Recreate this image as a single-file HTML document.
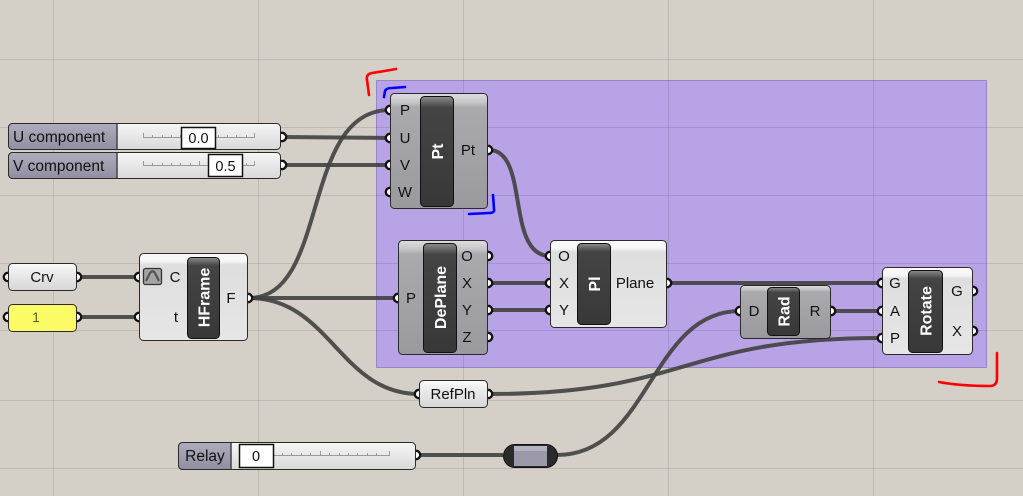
<!DOCTYPE html>
<html><head><meta charset="utf-8"><style>
html,body{margin:0;padding:0;background:#d4d0c8;}
svg{display:block;}
text{font-family:"Liberation Sans",sans-serif;}
</style></head><body>
<svg width="1023" height="496" viewBox="0 0 1023 496" xmlns="http://www.w3.org/2000/svg">
<defs>
<linearGradient id="gL" x1="0" y1="0" x2="0" y2="1">
<stop offset="0" stop-color="#fafafa"/><stop offset="0.09" stop-color="#f6f6f6"/><stop offset="0.13" stop-color="#dedede"/><stop offset="1" stop-color="#e6e6e6"/>
</linearGradient>
<linearGradient id="gLs" x1="0" y1="0" x2="0" y2="1">
<stop offset="0" stop-color="#fbfbfb"/><stop offset="0.3" stop-color="#ededed"/><stop offset="1" stop-color="#d6d6d6"/>
</linearGradient>
<linearGradient id="gG" x1="0" y1="0" x2="0" y2="1">
<stop offset="0" stop-color="#dedede"/><stop offset="0.08" stop-color="#c4c4c6"/><stop offset="0.12" stop-color="#aaaaae"/><stop offset="1" stop-color="#9a9a9e"/>
</linearGradient>
<linearGradient id="gB" x1="0" y1="0" x2="0" y2="1">
<stop offset="0" stop-color="#8c8c8c"/><stop offset="0.1" stop-color="#444"/><stop offset="1" stop-color="#383838"/>
</linearGradient>
<linearGradient id="gS" x1="0" y1="0" x2="0" y2="1">
<stop offset="0" stop-color="#f6f6f6"/><stop offset="1" stop-color="#d9d9d9"/>
</linearGradient>
<linearGradient id="gLab" x1="0" y1="0" x2="0" y2="1">
<stop offset="0" stop-color="#aeacbd"/><stop offset="1" stop-color="#908ea0"/>
</linearGradient>
</defs>

<!-- group -->
<rect x="376.5" y="80.5" width="610" height="287" fill="#b9a3e7" stroke="#9886c4" stroke-width="1"/>

<!-- grid -->
<g stroke="rgba(0,0,0,0.1)" stroke-width="1">
<line x1="53.5" y1="0" x2="53.5" y2="496"/>
<line x1="258.5" y1="0" x2="258.5" y2="496"/>
<line x1="463.5" y1="0" x2="463.5" y2="496"/>
<line x1="668.5" y1="0" x2="668.5" y2="496"/>
<line x1="873.5" y1="0" x2="873.5" y2="496"/>
<line x1="0" y1="59.5" x2="1023" y2="59.5"/>
<line x1="0" y1="127.5" x2="1023" y2="127.5"/>
<line x1="0" y1="195.5" x2="1023" y2="195.5"/>
<line x1="0" y1="263.5" x2="1023" y2="263.5"/>
<line x1="0" y1="330.5" x2="1023" y2="330.5"/>
<line x1="0" y1="400.5" x2="1023" y2="400.5"/>
<line x1="0" y1="468.5" x2="1023" y2="468.5"/>
</g>

<!-- wires -->
<g fill="none" stroke="#434343" stroke-width="4" stroke-opacity="0.92">
<path d="M284,137 L390,138"/>
<path d="M284,165 L390,165"/>
<path d="M249,298 C330,298 300,110 390,110"/>
<path d="M249,298 L398,298"/>
<path d="M249,298 C330,298 340,394 419,394"/>
<path d="M78,277 L139,277"/>
<path d="M78,317 L139,317"/>
<path d="M489,150 C530,150 505,256 550,256"/>
<path d="M489,283 L550,283"/>
<path d="M489,310 L550,310"/>
<path d="M668,283 L882,283"/>
<path d="M832,311 L882,311"/>
<path d="M489,394 C690,394 680,338 882,338"/>
<path d="M417,455 L503,455"/>
<path d="M557,455 C650,455 650,311 740,311"/>
</g>

<!-- grips -->
<g fill="#fff" stroke="#111" stroke-width="2.3">
<circle cx="282" cy="137" r="4.2"/>
<circle cx="282" cy="165" r="4.2"/>
<circle cx="8" cy="277" r="4.2"/><circle cx="77" cy="277" r="4.2"/>
<circle cx="8" cy="317" r="4.2"/><circle cx="77" cy="317" r="4.2"/>
<circle cx="139" cy="277" r="4.2"/><circle cx="139" cy="317" r="4.2"/><circle cx="248" cy="298" r="4.2"/>
<circle cx="390" cy="110" r="4.2"/><circle cx="390" cy="138" r="4.2"/><circle cx="390" cy="165" r="4.2"/><circle cx="390" cy="192" r="4.2"/><circle cx="488" cy="150" r="4.2"/>
<circle cx="398" cy="298" r="4.2"/>
<circle cx="488" cy="256" r="4.2"/><circle cx="488" cy="283" r="4.2"/><circle cx="488" cy="310" r="4.2"/><circle cx="488" cy="337" r="4.2"/>
<circle cx="550" cy="256" r="4.2"/><circle cx="550" cy="283" r="4.2"/><circle cx="550" cy="310" r="4.2"/><circle cx="667" cy="283" r="4.2"/>
<circle cx="740" cy="311" r="4.2"/><circle cx="831" cy="311" r="4.2"/>
<circle cx="882" cy="283" r="4.2"/><circle cx="882" cy="311" r="4.2"/><circle cx="882" cy="338" r="4.2"/>
<circle cx="973" cy="291" r="4.2"/><circle cx="973" cy="331" r="4.2"/>
<circle cx="419" cy="394" r="4.2"/><circle cx="488" cy="394" r="4.2"/>
<circle cx="416" cy="455" r="4.2"/>
</g>

<!-- U slider -->
<rect x="8.5" y="123.5" width="272" height="26" rx="4" fill="url(#gS)" stroke="#2a2a2a"/>
<path d="M12.5,123.5 H117 V149.5 H12.5 A4,4 0 0 1 8.5,145.5 V127.5 A4,4 0 0 1 12.5,123.5 Z" fill="url(#gLab)" stroke="#2a2a2a"/>
<line x1="117" y1="124" x2="117" y2="149" stroke="#444" stroke-width="1.5"/>
<text x="13" y="142" font-size="15.5" fill="#111">U component</text>
<g stroke="#9a9a9a" stroke-width="1">
<line x1="143" y1="137.5" x2="255" y2="137.5"/>
<path d="M143.5,133 V138 M152.5,135 V138 M162.5,135 V138 M171.5,135 V138 M180.5,135 V138 M190.5,135 V138 M199.5,133 V138 M208.5,135 V138 M218.5,135 V138 M227.5,135 V138 M236.5,135 V138 M246.5,135 V138 M254.5,133 V138"/>
</g>
<rect x="181.5" y="127.5" width="34" height="21" fill="#fff" stroke="#111" stroke-width="1.5"/>
<text x="198.5" y="143" font-size="14.5" text-anchor="middle" fill="#111">0.0</text>

<!-- V slider -->
<rect x="8.5" y="152.5" width="272" height="26" rx="4" fill="url(#gS)" stroke="#2a2a2a"/>
<path d="M12.5,152.5 H117 V178.5 H12.5 A4,4 0 0 1 8.5,174.5 V156.5 A4,4 0 0 1 12.5,152.5 Z" fill="url(#gLab)" stroke="#2a2a2a"/>
<line x1="117" y1="153" x2="117" y2="178" stroke="#444" stroke-width="1.5"/>
<text x="13" y="171" font-size="15.5" fill="#111">V component</text>
<g stroke="#9a9a9a" stroke-width="1">
<line x1="143" y1="165.5" x2="255" y2="165.5"/>
<path d="M143.5,161 V166 M152.5,163 V166 M162.5,163 V166 M171.5,163 V166 M180.5,163 V166 M190.5,163 V166 M199.5,161 V166 M208.5,163 V166 M218.5,163 V166 M227.5,163 V166 M236.5,163 V166 M246.5,163 V166 M254.5,161 V166"/>
</g>
<rect x="208.5" y="154.5" width="34" height="22" fill="#fff" stroke="#111" stroke-width="1.5"/>
<text x="225.5" y="171" font-size="14.5" text-anchor="middle" fill="#111">0.5</text>

<!-- Crv -->
<rect x="8.5" y="263.5" width="68" height="27" rx="4" fill="url(#gLs)" stroke="#2a2a2a"/>
<text x="42" y="282" font-size="15" text-anchor="middle" fill="#111">Crv</text>
<!-- panel 1 -->
<rect x="8.5" y="304.5" width="68" height="27" rx="4" fill="#fbfb66" stroke="#2a2a2a"/>
<text x="36" y="322" font-size="13.5" text-anchor="middle" fill="#4d5a2a">1</text>

<!-- HFrame -->
<rect x="139.5" y="253.5" width="108" height="87" rx="4" fill="url(#gL)" stroke="#2a2a2a"/>
<rect x="187.5" y="257.5" width="32" height="81" rx="4" fill="url(#gB)" stroke="#111"/>
<text transform="translate(209.5,297.5) rotate(-90)" font-size="16" font-weight="bold" text-anchor="middle" fill="#fff">HFrame</text>
<rect x="143.5" y="268.5" width="18" height="16" rx="2" fill="#a4a4a4" stroke="#333" stroke-width="1.3"/>
<path d="M146,281 L150,273 Q152.5,269.5 155,273 L159,281" fill="none" stroke="#555" stroke-width="2.2"/>
<text x="175" y="282" font-size="15" text-anchor="middle" fill="#111">C</text>
<text x="176" y="322" font-size="15" text-anchor="middle" fill="#111">t</text>
<text x="231" y="303" font-size="15" text-anchor="middle" fill="#111">F</text>

<!-- Pt -->
<rect x="390.5" y="93.5" width="97" height="115" rx="4" fill="url(#gG)" stroke="#2a2a2a"/>
<rect x="420.5" y="96.5" width="33" height="110" rx="4" fill="url(#gB)" stroke="#111"/>
<text transform="translate(443,151.5) rotate(-90)" font-size="16" font-weight="bold" text-anchor="middle" fill="#fff">Pt</text>
<g font-size="15" text-anchor="middle" fill="#111">
<text x="405" y="115">P</text><text x="405" y="143">U</text><text x="405" y="170">V</text><text x="405" y="197">W</text>
<text x="468" y="155">Pt</text>
</g>

<!-- DePlane -->
<rect x="398.5" y="240.5" width="89" height="114" rx="4" fill="url(#gG)" stroke="#2a2a2a"/>
<rect x="423.5" y="243.5" width="33" height="109" rx="4" fill="url(#gB)" stroke="#111"/>
<text transform="translate(446,297.5) rotate(-90)" font-size="16" font-weight="bold" text-anchor="middle" fill="#fff">DePlane</text>
<g font-size="15" text-anchor="middle" fill="#111">
<text x="411" y="303">P</text>
<text x="467" y="261">O</text><text x="467" y="288">X</text><text x="467" y="315">Y</text><text x="467" y="342">Z</text>
</g>

<!-- Pl -->
<rect x="550.5" y="240.5" width="116" height="87" rx="4" fill="url(#gL)" stroke="#2a2a2a"/>
<rect x="577.5" y="243.5" width="33" height="81" rx="4" fill="url(#gB)" stroke="#111"/>
<text transform="translate(600,284) rotate(-90)" font-size="16" font-weight="bold" text-anchor="middle" fill="#fff">Pl</text>
<g font-size="15" text-anchor="middle" fill="#111">
<text x="564" y="261">O</text><text x="564" y="288">X</text><text x="564" y="315">Y</text>
<text x="635" y="288">Plane</text>
</g>

<!-- Rad -->
<rect x="740.5" y="285.5" width="90" height="53" rx="4" fill="url(#gG)" stroke="#2a2a2a"/>
<rect x="767.5" y="287.5" width="32" height="48" rx="4" fill="url(#gB)" stroke="#111"/>
<text transform="translate(789.5,311.5) rotate(-90)" font-size="16" font-weight="bold" text-anchor="middle" fill="#fff">Rad</text>
<g font-size="15" text-anchor="middle" fill="#111">
<text x="754" y="316">D</text><text x="815" y="316">R</text>
</g>

<!-- Rotate -->
<rect x="882.5" y="267.5" width="90" height="87" rx="4" fill="url(#gL)" stroke="#2a2a2a"/>
<rect x="908.5" y="270.5" width="34" height="82" rx="4" fill="url(#gB)" stroke="#111"/>
<text transform="translate(931.5,311) rotate(-90)" font-size="16" font-weight="bold" text-anchor="middle" fill="#fff">Rotate</text>
<g font-size="15" text-anchor="middle" fill="#111">
<text x="895" y="288">G</text><text x="895" y="316">A</text><text x="895" y="343">P</text>
<text x="957" y="296">G</text><text x="957" y="336">X</text>
</g>

<!-- RefPln -->
<rect x="419.5" y="380.5" width="68" height="27" rx="4" fill="url(#gLs)" stroke="#2a2a2a"/>
<text x="453" y="399" font-size="15" text-anchor="middle" fill="#111">RefPln</text>

<!-- Relay slider -->
<rect x="178.5" y="442.5" width="237" height="27" rx="4" fill="url(#gS)" stroke="#2a2a2a"/>
<path d="M182.5,442.5 H231 V469.5 H182.5 A4,4 0 0 1 178.5,465.5 V446.5 A4,4 0 0 1 182.5,442.5 Z" fill="url(#gLab)" stroke="#2a2a2a"/>
<line x1="231" y1="443" x2="231" y2="469" stroke="#444" stroke-width="1.5"/>
<text x="205" y="461" font-size="15.5" text-anchor="middle" fill="#111">Relay</text>
<g stroke="#9a9a9a" stroke-width="1">
<line x1="273" y1="455.5" x2="390" y2="455.5"/>
<path d="M282.5,453 V456 M291.5,453 V456 M301.5,453 V456 M310.5,453 V456 M320.5,451 V456 M329.5,453 V456 M339.5,453 V456 M348.5,453 V456 M357.5,453 V456 M367.5,453 V456 M376.5,453 V456 M389.5,451 V456"/>
</g>
<rect x="239.5" y="444.5" width="34" height="23" fill="#fff" stroke="#111" stroke-width="1.5"/>
<text x="256" y="461" font-size="14.5" text-anchor="middle" fill="#111">0</text>

<!-- relay capsule -->
<rect x="503.5" y="444.5" width="54" height="23" rx="11.5" fill="#2b2b2b" stroke="#111"/>
<rect x="514" y="446" width="33" height="20" fill="#9b99a9"/>
<rect x="514" y="446" width="33" height="5" fill="#b4b2c0"/>

<!-- annotations -->
<g fill="none" stroke-linecap="round" stroke-linejoin="round" stroke-width="2.6">
<path d="M369,95 L367,80 Q366,74 372,73 Q385,71 396,69" stroke="#ff0000"/>
<path d="M384,97 L385,91 Q386,88 392,88 L405,87" stroke="#0000ff"/>
<path d="M493,195 L494,209 Q495,213 489,213 L469,214" stroke="#0000ff"/>
<path d="M939,382 Q960,386 990,386 Q997,386 997,378 L997,353" stroke="#ff0000"/>
</g>
</svg>
</body></html>
